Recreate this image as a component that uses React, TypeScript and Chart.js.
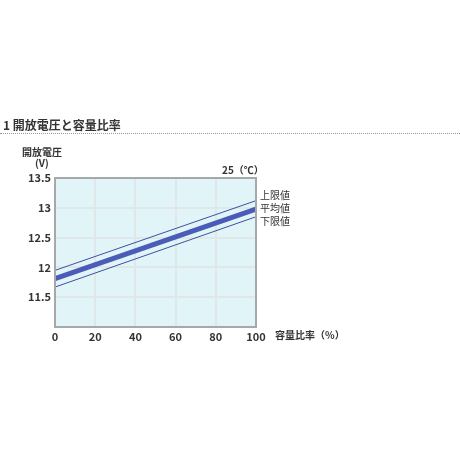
import React, { useEffect, useRef } from 'react';
import { Chart, registerables } from 'chart.js';

Chart.register(...registerables);

const CAPACITY = [0, 100];
const UPPER = [11.95, 13.12];
const AVERAGE = [11.81, 12.98];
const LOWER = [11.67, 12.85];
const SERIES_LABELS = ['上限値', '平均値', '下限値'];

const FONT = '"Noto Sans CJK JP", "Noto Sans", sans-serif';

const frame = {
    id: 'frame',
    beforeDraw(chart: Chart) {
        const { ctx, chartArea: a } = chart;
        ctx.save();
        ctx.fillStyle = '#e1f4f7';
        ctx.fillRect(a.left, a.top, a.right - a.left, a.bottom - a.top);
        ctx.restore();
    },
    afterDraw(chart: Chart) {
        const { ctx, chartArea: a } = chart;
        ctx.save();
        ctx.strokeStyle = '#a6a9aa';
        ctx.lineWidth = 2;
        ctx.strokeRect(a.left, a.top, a.right - a.left, a.bottom - a.top);
        ctx.restore();
    },
};

const label = (left: number, top: number, size: number, bold = false): React.CSSProperties => ({
    position: 'absolute', left, top, fontSize: size, fontWeight: bold ? 700 : 400,
    lineHeight: `${size + 2}px`, whiteSpace: 'nowrap', color: '#333',
});

export default function App() {
    const canvasRef = useRef<HTMLCanvasElement>(null);
    const chartRef = useRef<Chart | null>(null);

    useEffect(() => {
        if (!canvasRef.current) return;
        const mk = (data: number[], color: string, width: number) => ({
            data: data.map((v, i) => ({ x: CAPACITY[i], y: v })),
            borderColor: color, borderWidth: width, pointRadius: 0, fill: false,
        });
        chartRef.current = new Chart(canvasRef.current, {
            type: 'line',
            data: {
                datasets: [
                    { label: SERIES_LABELS[0], ...mk(UPPER, '#4050a0', 1) },
                    { label: SERIES_LABELS[1], ...mk(AVERAGE, '#4a5cb8', 5) },
                    { label: SERIES_LABELS[2], ...mk(LOWER, '#4050a0', 1) },
                ],
            },
            options: {
                animation: false,
                responsive: false,
                layout: { padding: { left: 0, top: 178, right: 204, bottom: 0 } },
                plugins: { legend: { display: false }, tooltip: { enabled: false } },
                scales: {
                    x: {
                        type: 'linear', min: 0, max: 100,
                        afterFit: (s: any) => { s.height = 133; },
                        grid: { color: '#dfe7e9', lineWidth: 2, drawTicks: false },
                        border: { display: false },
                        ticks: { stepSize: 20, padding: 3, color: '#333', font: { family: FONT, size: 11, weight: 'bold' } },
                    },
                    y: {
                        min: 11, max: 13.5,
                        afterFit: (s: any) => { s.width = 55; },
                        grid: { color: '#dfe7e9', lineWidth: 2, drawTicks: false },
                        border: { display: false },
                        ticks: {
                            stepSize: 0.5, padding: 4, color: '#333', font: { family: FONT, size: 11, weight: 'bold' },
                            callback: (v: any) => (v === 11 ? '' : String(v)),
                        },
                    },
                },
            },
            plugins: [frame],
        });
        return () => { if (chartRef.current) chartRef.current.destroy(); };
    }, []);

    return (
        <div style={{ position: 'absolute', left: 0, top: 0, width: 460, height: 460, background: '#fff', fontFamily: FONT }}>
            <canvas ref={canvasRef} width={460} height={460} style={{ position: 'absolute', left: 0, top: 0 }} />
            <div style={label(3, 118, 12, true)}>1 開放電圧と容量比率</div>
            <div style={{ position: 'absolute', left: 0, top: 133, width: 460, borderTop: '1px dotted #999' }} />
            <div style={label(22, 146, 10, true)}>開放電圧</div>
            <div style={label(35, 157, 10, true)}>(V)</div>
            <div style={label(222, 164, 10, true)}>25（℃）</div>
            <div style={label(260, 189, 10)}>{SERIES_LABELS[0]}</div>
            <div style={label(260, 202, 10)}>{SERIES_LABELS[1]}</div>
            <div style={label(260, 215, 10)}>{SERIES_LABELS[2]}</div>
            <div style={label(275, 329, 10, true)}>容量比率（%）</div>
        </div>
    );
}
